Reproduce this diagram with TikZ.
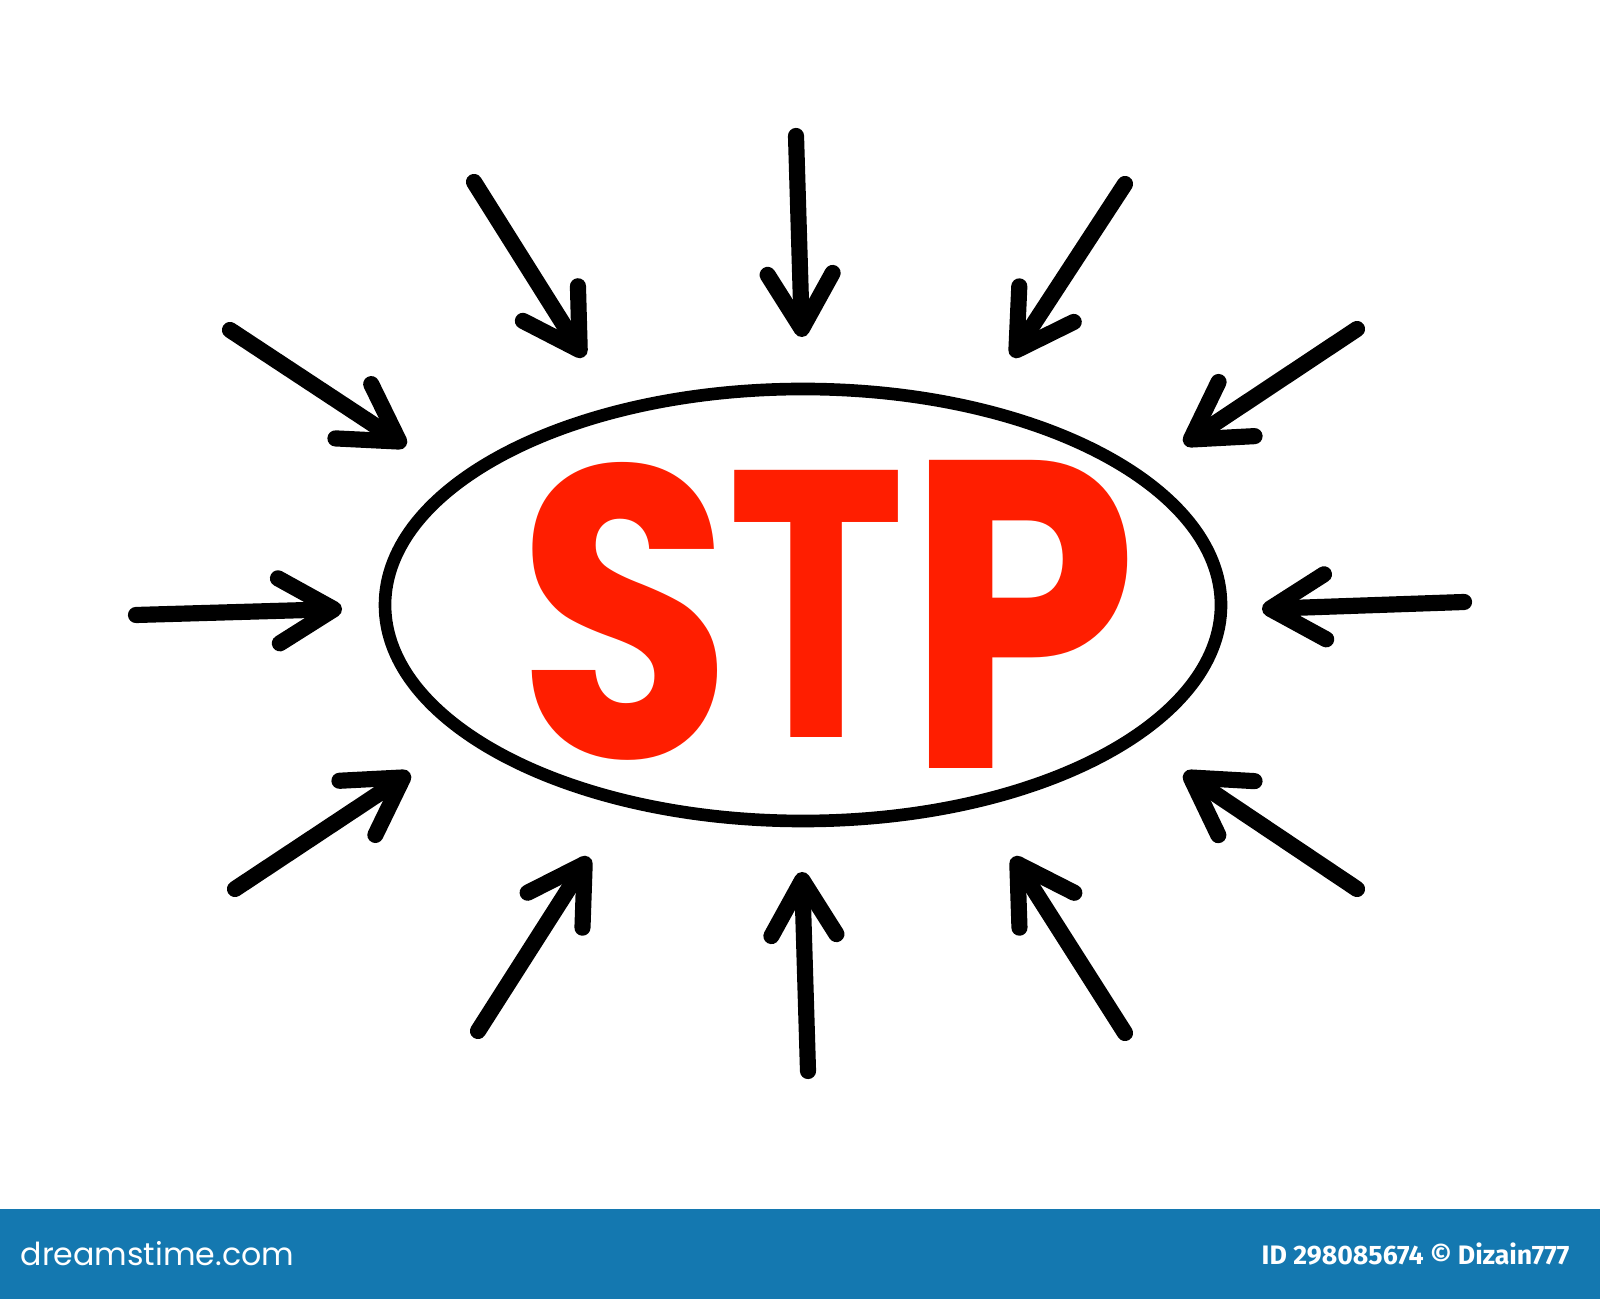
\documentclass[tikz,border=0pt]{standalone}
\usepackage{fontspec}
\setmainfont{Poppins}
\newfontfamily\creditfont{Fira Sans}
\usetikzlibrary{arrows.meta,shapes.geometric}
\definecolor{stpred}{RGB}{255,30,0}
\definecolor{barblue}{RGB}{20,120,176}
\tikzset{
  inarrow/.style={line width=4.6pt, line cap=round,
    -{Straight Barb[length=5.5mm,width=6.5mm,round]}},
  oval/.style={ellipse, draw, line width=3.6pt, minimum width=8.36cm, minimum height=4.32cm, inner sep=0pt},
  letter/.style={inner sep=0pt, text=stpred, font=\bfseries}
}
\begin{document}
\begin{tikzpicture}
\useasboundingbox (0,0) rectangle (16,12.99);
%\draw [lightgray] (0,0) grid (16,13);

\node [oval] (ring) at (8.03,6.94) {}; % elipse
\node [letter] (s) at (6.25,6.88) {\resizebox{2.15cm}{2.95cm}{S}};
\node [letter] (t) at (8.17,6.95) {\resizebox{1.78cm}{2.67cm}{T}};
\node [letter] (p) at (10.22,6.845) {\resizebox{2.31cm}{3.08cm}{P}};

\coordinate (t1) at (7.96,11.63);  \coordinate (h1) at (8.02,9.62);  % cima
\coordinate (t2) at (4.74,11.17);  \coordinate (h2) at (5.84,9.42);
\coordinate (t3) at (11.25,11.15); \coordinate (h3) at (10.12,9.42);
\coordinate (t4) at (2.30,9.69);   \coordinate (h4) at (4.06,8.53);
\coordinate (t5) at (13.57,9.70);  \coordinate (h5) at (11.84,8.55);
\coordinate (t6) at (1.36,6.84);   \coordinate (h6) at (3.42,6.90);  % esquerda
\coordinate (t7) at (14.64,6.97);  \coordinate (h7) at (12.62,6.90); % direita
\coordinate (t8) at (2.35,4.10);   \coordinate (h8) at (4.10,5.26);
\coordinate (t9) at (13.57,4.10);  \coordinate (h9) at (11.84,5.26);
\coordinate (t10) at (4.78,2.68);  \coordinate (h10) at (5.89,4.42);
\coordinate (t11) at (11.25,2.66); \coordinate (h11) at (10.13,4.42);
\coordinate (t12) at (8.08,2.28);  \coordinate (h12) at (8.02,4.27); % baixo

\draw [inarrow] (t1) -- (h1);
\draw [inarrow] (t2) -- (h2);
\draw [inarrow] (t3) -- (h3);
\draw [inarrow] (t4) -- (h4);
\draw [inarrow] (t5) -- (h5);
\draw [inarrow] (t6) -- (h6);
\draw [inarrow] (t7) -- (h7);
\draw [inarrow] (t8) -- (h8);
\draw [inarrow] (t9) -- (h9);
\draw [inarrow] (t10) -- (h10);
\draw [inarrow] (t11) -- (h11);
\draw [inarrow] (t12) -- (h12);

\fill [barblue] (0,0) rectangle (16,0.90); % faixa
\node [anchor=west, inner sep=0pt, text=white, font=\fontsize{9}{11}\selectfont] (site) at (0.20,0.45) {dreamstime.com};
\node [anchor=east, inner sep=0pt, text=white, font=\creditfont\bfseries\fontsize{7.6}{9}\selectfont] (credit) at (15.70,0.45) {ID 298085674 © Dizain777};

\end{tikzpicture}
\end{document}
